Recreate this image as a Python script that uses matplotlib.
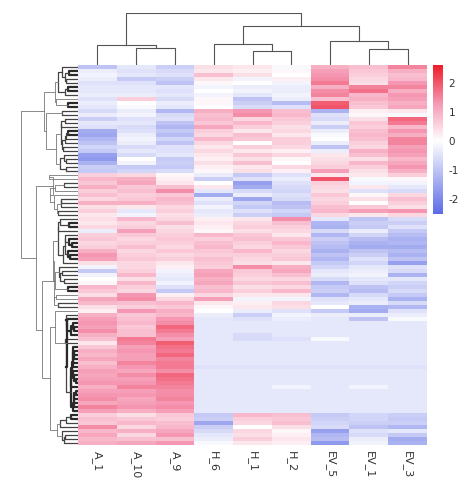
import numpy as np
import matplotlib
matplotlib.use("Agg")
import matplotlib.pyplot as plt
from matplotlib.colors import LinearSegmentedColormap

plt.rcParams["axes.unicode_minus"] = False

samples = ["A_1", "A_10", "A_9", "H_6", "H_1", "H_2", "EV_5", "EV_1", "EV_3"]

# rows, top to bottom (row z-scores)
rows_ev_high = [
    [-1.0, -0.4, -0.8, 0.4, 0.3, -0.1, 1.0, 0.8, 1.5],
    [-0.3, -0.5, -0.6, 0.3, 0.2, 0.1, 1.2, 0.7, 1.0],
    [-0.2, -0.4, -0.5, 0.8, 0.4, 0.0, 1.3, 0.6, 0.8],
    [-0.3, -0.9, -0.8, 0.3, -0.2, 0.2, 1.4, 0.5, 0.9],
    [-0.5, -0.5, -1.0, 0.1, 0.0, -0.2, 1.6, 0.4, 1.3],
    [-0.4, -0.4, -0.4, -0.2, -0.3, -0.3, 1.0, 1.5, 1.5],
    [-0.4, -0.4, -0.5, 0.0, -0.2, -0.3, 1.4, 1.7, 1.0],
    [-0.3, -0.3, -0.4, -0.2, -0.4, -0.2, 1.5, 0.9, 1.3],
    [-0.5, 0.6, -0.6, 0.1, -1.0, -0.3, 0.8, 1.0, 1.2],
    [-0.3, 0.0, -0.3, 0.1, -0.8, -1.1, 1.9, 0.8, 1.0],
    [-0.4, -0.1, -0.4, 0.0, -0.6, -0.5, 2.0, 0.7, 1.1],
]
rows_h_high = [
    [-0.6, -0.3, -1.2, 1.0, 1.3, 0.8, -1.3, 0.2, 0.3],
    [-0.3, -0.2, -0.6, 0.8, 1.4, 0.9, -0.5, 0.1, -0.1],
    [-0.8, -0.5, -0.5, 0.9, 0.5, 0.7, -0.6, 0.4, 1.8],
    [-0.4, -0.4, -1.0, 0.7, 0.9, 0.6, -0.3, 0.7, 1.6],
    [-0.5, -0.6, -1.2, 1.1, 0.6, 0.4, -0.8, 0.6, 0.9],
    [-1.4, -0.5, -0.9, 0.6, 0.3, 0.5, -0.3, 0.8, 1.3],
    [-1.5, -0.3, -1.1, 0.5, 0.8, 0.3, -0.1, 0.9, 1.0],
    [-1.2, -0.2, -0.7, 0.9, 0.7, 0.6, 0.0, 0.8, 1.5],
    [-1.0, -0.3, -1.0, 0.5, 0.0, 0.6, -0.3, 0.6, 1.5],
    [-0.7, -0.6, -0.5, 0.3, 0.6, 0.5, -1.0, 0.5, 1.2],
    [-0.9, -0.4, -0.5, 0.5, 0.3, 0.2, -0.3, 1.0, 1.3],
    [-1.6, -0.6, -0.4, 0.3, 0.7, 0.5, 0.3, 0.8, 1.2],
    [-1.7, 0.0, -0.9, 0.2, 0.4, 0.1, 0.4, 0.4, 0.9],
    [-1.3, -0.2, -0.8, 0.4, 0.8, 0.0, 0.5, 0.9, 1.1],
    [-0.8, -0.9, -0.9, 0.2, 0.3, 0.5, 0.6, 0.6, 1.3],
    [-0.9, -0.7, -0.6, 0.1, 0.4, 0.2, 1.2, 0.4, 1.0],
]
rows_h_low = [
    [0.6, 0.5, 0.1, -0.3, -0.9, -0.5, 0.3, 0.3, 0.6],
    [0.9, 1.0, 0.2, -0.8, -0.5, -0.3, 2.0, -0.1, 0.1],
    [0.7, 1.1, 0.3, 0.0, -1.6, -0.5, 0.6, -0.2, -0.2],
    [1.0, 0.7, 0.8, 0.3, -1.4, -0.6, 0.5, 0.3, -0.4],
    [0.6, 0.8, 1.4, -0.4, -0.6, -0.7, 0.4, -0.5, -0.6],
    [0.8, 0.6, 0.7, -1.4, -0.3, -0.5, 0.7, 0.1, 0.5],
    [0.5, 0.7, 0.9, -0.3, -1.5, -0.6, 0.5, 0.4, 0.8],
    [1.0, 1.0, 0.8, -0.5, -0.7, -1.1, 0.6, 0.0, 0.6],
    [0.4, 0.3, 0.5, -0.2, -0.9, -1.0, 0.8, 0.7, 0.4],
    [0.6, -0.4, 0.6, -0.4, -0.5, -0.7, 0.9, 1.2, 1.3],
    [0.3, -0.2, 0.4, -0.3, -0.8, -0.9, 0.5, 0.3, 0.5],
]
rows_ev_low = [
    [0.4, 0.9, 0.5, 0.2, 0.3, 1.4, -0.4, -1.0, -0.6],
    [0.3, 0.5, 0.8, 0.3, 0.5, 0.8, -1.2, -0.8, -0.8],
    [0.5, 0.6, 0.4, 0.2, 0.6, 0.6, -1.3, -0.9, -0.5],
    [-0.3, 1.2, 0.5, 0.1, 0.4, 0.5, -0.6, -0.3, -0.9],
    [0.6, 0.7, 0.6, 0.9, 0.7, 0.3, -1.2, -0.7, -1.1],
    [0.7, 0.5, 0.7, 0.6, 0.8, 0.7, -0.8, -1.1, -1.3],
    [0.5, 0.6, 0.6, 0.8, 0.6, 0.9, -1.0, -1.3, -1.2],
    [0.6, 0.8, 0.5, 0.9, 0.5, 0.7, -1.1, -1.4, -1.4],
    [1.0, 0.5, 0.7, 0.7, 0.9, 0.5, -1.3, -1.0, -1.1],
    [1.3, 0.6, 0.5, 0.6, 0.6, 0.6, -1.0, -0.8, -1.3],
    [1.2, 0.7, 0.6, 0.8, 0.5, 0.7, -1.2, -0.5, -1.0],
    [0.4, 0.5, 0.3, 0.7, 0.4, 0.3, -0.9, -0.7, -1.6],
    [-0.2, 0.5, 0.2, 0.6, 1.4, 1.0, -0.7, -0.4, -0.5],
    [-0.9, 0.6, -0.2, 1.1, 0.7, 1.1, -0.4, -0.3, -0.6],
    [-0.2, 0.9, -0.3, 1.2, 0.6, 0.8, -0.3, -0.2, -1.3],
    [0.0, 0.4, -0.4, 1.0, 0.5, 0.5, -0.6, -0.4, -0.4],
    [0.1, 0.9, -0.2, 1.1, 0.7, 0.8, -1.2, -0.5, -0.7],
    [0.9, 0.6, -0.5, 0.8, 0.4, 0.5, -0.9, -1.0, -0.8],
    [0.7, 0.5, -0.9, 0.9, 0.6, 0.9, -0.8, -1.1, -0.6],
    [0.4, 1.3, 0.2, 0.5, 0.3, 0.3, -1.2, -0.6, -0.9],
]
rows_mixed = [
    [1.1, 1.4, 0.5, 1.2, -0.2, -0.2, -0.5, -0.4, -1.3],
    [0.9, 0.8, 0.9, 0.3, 0.2, 0.5, -0.4, -0.3, -0.6],
    [0.4, 0.6, 0.7, 0.1, 0.3, 0.4, 0.0, -1.3, -1.2],
    [0.2, 1.3, 1.0, 0.0, -0.3, -0.5, -0.9, -1.4, -0.5],
    [1.0, 0.7, 0.9, -0.3, -0.8, -0.2, -0.3, -0.3, -0.3],
    [1.2, 0.8, 1.3, -0.4, -0.5, -0.3, -0.4, -1.0, -0.1],
]
rows_a_only = [
    [1.3, 0.9, 1.4, -0.4, -0.4, -0.4, -0.4, -0.4, -0.4],
    [1.2, 0.7, 1.8, -0.4, -0.4, -0.4, -0.4, -0.4, -0.4],
    [1.4, 0.8, 1.6, -0.4, -0.4, -0.4, -0.4, -0.4, -0.4],
    [1.0, 0.8, 1.4, -0.4, -0.6, -0.4, -0.4, -0.4, -0.4],
    [0.8, 1.6, 1.2, -0.4, -0.6, -0.5, -0.1, -0.4, -0.4],
    [0.3, 1.5, 1.9, -0.4, -0.4, -0.4, -0.4, -0.4, -0.4],
    [0.7, 1.2, 1.7, -0.4, -0.4, -0.4, -0.4, -0.4, -0.4],
    [1.0, 1.3, 1.6, -0.4, -0.4, -0.4, -0.4, -0.4, -0.4],
    [0.9, 1.2, 1.8, -0.4, -0.4, -0.4, -0.4, -0.4, -0.4],
    [1.1, 1.2, 1.5, -0.4, -0.4, -0.4, -0.4, -0.4, -0.4],
    [0.8, 1.5, 1.6, -0.4, -0.4, -0.4, -0.4, -0.4, -0.4],
    [1.0, 1.3, 1.6, -0.5, -0.5, -0.5, -0.5, -0.5, -0.5],
    [1.2, 1.1, 1.4, -0.4, -0.4, -0.4, -0.4, -0.4, -0.4],
    [1.1, 1.4, 1.8, -0.4, -0.4, -0.4, -0.4, -0.4, -0.4],
    [1.2, 1.2, 1.7, -0.4, -0.4, -0.4, -0.4, -0.4, -0.4],
    [1.3, 1.3, 1.6, -0.4, -0.4, -0.4, -0.4, -0.4, -0.4],
    [1.0, 1.5, 1.5, -0.4, -0.4, -0.2, -0.4, -0.2, -0.4],
    [1.2, 1.2, 1.4, -0.4, -0.4, -0.4, -0.4, -0.4, -0.4],
    [1.3, 1.3, 1.4, -0.4, -0.4, -0.4, -0.4, -0.4, -0.4],
    [1.4, 1.1, 1.5, -0.4, -0.4, -0.4, -0.4, -0.4, -0.4],
    [1.1, 1.2, 1.3, -0.4, -0.4, -0.4, -0.4, -0.4, -0.4],
    [1.5, 1.3, 1.4, -0.4, -0.4, -0.4, -0.4, -0.4, -0.4],
    [1.2, 1.0, 1.2, -0.4, -0.4, -0.4, -0.4, -0.4, -0.4],
]
rows_bottom = [
    [0.6, 0.4, 0.7, -0.9, 0.9, 0.8, -0.9, -0.7, -0.8],
    [0.8, 0.7, 0.6, -0.8, 0.6, 0.7, -0.8, -0.7, -0.9],
    [0.7, 0.9, 0.8, -1.5, 0.5, 0.8, -0.7, -0.8, -0.8],
    [1.4, 0.5, 0.9, -0.8, 0.0, 0.4, -0.6, -1.0, -1.2],
    [0.9, 1.0, 1.1, -0.6, 0.5, 0.1, -1.6, -0.5, -0.4],
    [1.1, 0.5, 1.3, -0.4, 0.4, 0.2, -1.2, -0.6, -0.9],
    [0.9, 0.8, 0.8, -0.3, 0.6, 0.3, -1.1, -0.3, -1.4],
    [1.0, 1.1, 1.3, -0.1, 0.3, 0.2, -1.7, -0.2, -1.3],
]

# column tree: (left node, right node, height)
col_merges = [(1, 2, 17), (0, 9, 20), (4, 5, 14), (3, 11, 21),
              (7, 8, 16), (6, 13, 24), (12, 14, 39), (10, 15, 52)]

data = np.vstack([rows_ev_high, rows_h_high, rows_h_low, rows_ev_low,
                  rows_mixed, rows_a_only, rows_bottom])
n_rows, n_cols = data.shape

vmin, vmax = -2.5, 2.6
def pos(v):
    return (v - vmin) / (vmax - vmin)
cmap = LinearSegmentedColormap.from_list("bwr2", [
    (0.0, "#5B6BE6"), (pos(-1.25), "#AEB5F2"), (pos(0), "#FFFFFF"),
    (pos(1.3), "#F597B3"), (1.0, "#EE1C28")])

W, H = 474, 487
fig = plt.figure(figsize=(W / 100, H / 100), dpi=100)

def box(x0, y0, x1, y1):
    return [x0 / W, 1 - y1 / H, (x1 - x0) / W, (y1 - y0) / H]

# heatmap
ax = fig.add_axes(box(78, 65, 427, 445))
im = ax.imshow(data, cmap=cmap, vmin=vmin, vmax=vmax, aspect="auto",
               interpolation="nearest", extent=(0, n_cols, n_rows, 0))
ax.set_xticks(np.arange(n_cols) + 0.5)
ax.set_xticklabels(samples, rotation=270, fontsize=8, color="#333333")
ax.set_yticks([])
ax.tick_params(axis="x", length=0, pad=4)
for s in ax.spines.values():
    s.set_visible(False)

# column dendrogram
axt = fig.add_axes(box(78, 13, 427, 65))
xs = {i: i + 0.5 for i in range(n_cols)}
hs = {i: 0.0 for i in range(n_cols)}
node = n_cols
for a, b, h in col_merges:
    axt.plot([xs[a], xs[a], xs[b], xs[b]], [hs[a], h, h, hs[b]],
             color="#555555", lw=0.8)
    xs[node] = (xs[a] + xs[b]) / 2
    hs[node] = h
    node += 1
axt.set_xlim(0, n_cols)
axt.set_ylim(0, 52.5)
axt.axis("off")

# row dendrogram: average linkage, merging neighbours in display order
clusters = [([i], i + 0.5, 0.0) for i in range(n_rows)]
links = []
while len(clusters) > 1:
    best, best_d = 0, None
    for k in range(len(clusters) - 1):
        a = data[clusters[k][0]]
        b = data[clusters[k + 1][0]]
        d = np.sqrt(((a[:, None, :] - b[None, :, :]) ** 2).sum(-1)).mean()
        if best_d is None or d < best_d:
            best, best_d = k, d
    ca, cb = clusters[best], clusters[best + 1]
    links.append((ca[1], ca[2], cb[1], cb[2], best_d))
    clusters[best:best + 2] = [(ca[0] + cb[0], (ca[1] + cb[1]) / 2, best_d)]

axl = fig.add_axes(box(20, 65, 78, 445))
top = links[-1][4]
for ya, ha, yb, hb, h in links:
    if h < 0.2 * top:
        c, lw = "#2a2a2a", 1.6
    elif h < 0.35 * top:
        c, lw = "#444444", 0.9
    else:
        c, lw = "#777777", 0.6
    axl.plot([ha, h, h, hb], [ya, ya, yb, yb], color=c, lw=lw)
axl.set_xlim(top * 1.01, 0)
axl.set_ylim(n_rows, 0)
axl.axis("off")

# colour bar
axc = fig.add_axes(box(433, 65, 443, 214))
cb = fig.colorbar(im, cax=axc)
cb.set_ticks([-2, -1, 0, 1, 2])
cb.outline.set_visible(False)
axc.tick_params(length=0, labelsize=7.5, labelcolor="#333333", pad=4)

fig.savefig("out.png", dpi=100)
